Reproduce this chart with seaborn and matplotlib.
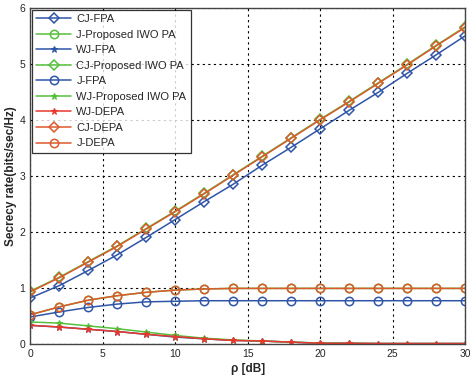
import numpy as np
import pandas as pd
import matplotlib
matplotlib.use("Agg")
import matplotlib.pyplot as plt
import seaborn as sns

rho = [0, 2, 4, 6, 8, 10, 12, 14, 16, 18, 20, 22, 24, 26, 28, 30]

cj_fpa = [0.82, 1.04, 1.31, 1.59, 1.90, 2.22, 2.54, 2.85, 3.19, 3.51, 3.84, 4.17, 4.49, 4.83, 5.16, 5.50]
cj_iwo = [0.94, 1.19, 1.47, 1.75, 2.06, 2.37, 2.69, 3.02, 3.35, 3.68, 4.01, 4.33, 4.66, 4.99, 5.33, 5.66]
cj_depa = [0.93, 1.18, 1.46, 1.74, 2.05, 2.36, 2.68, 3.01, 3.34, 3.67, 4.00, 4.32, 4.65, 4.98, 5.32, 5.65]

j_fpa = [0.48, 0.57, 0.65, 0.71, 0.75, 0.76, 0.77, 0.77, 0.77, 0.77, 0.77, 0.77, 0.77, 0.77, 0.77, 0.77]
j_iwo = [0.52, 0.66, 0.78, 0.86, 0.92, 0.96, 0.98, 0.99, 0.99, 0.99, 0.99, 0.99, 0.99, 0.99, 0.99, 0.99]
j_depa = [0.52, 0.66, 0.78, 0.86, 0.92, 0.96, 0.98, 0.99, 0.99, 0.99, 0.99, 0.99, 0.99, 0.99, 0.99, 0.99]

wj_fpa = [0.33, 0.30, 0.26, 0.22, 0.17, 0.12, 0.09, 0.06, 0.05, 0.03, 0.01, 0.01, 0.005, 0.005, 0.005, 0.005]
wj_iwo = [0.39, 0.37, 0.32, 0.27, 0.21, 0.15, 0.10, 0.07, 0.05, 0.03, 0.015, 0.01, 0.005, 0.005, 0.005, 0.005]
wj_depa = [0.33, 0.30, 0.26, 0.22, 0.17, 0.13, 0.09, 0.06, 0.05, 0.03, 0.01, 0.01, 0.005, 0.005, 0.005, 0.005]

blue = "#2f55a8"
green = "#55c03c"
red = "#e8382e"
orange = "#dc5a2c"

series = [
    ("CJ-FPA", cj_fpa, blue, "D"),
    ("J-Proposed IWO PA", j_iwo, green, "o"),
    ("WJ-FPA", wj_fpa, blue, "*"),
    ("CJ-Proposed IWO PA", cj_iwo, green, "D"),
    ("J-FPA", j_fpa, blue, "o"),
    ("WJ-Proposed IWO PA", wj_iwo, green, "*"),
    ("WJ-DEPA", wj_depa, red, "*"),
    ("CJ-DEPA", cj_depa, orange, "D"),
    ("J-DEPA", j_depa, orange, "o"),
]

sns.set_style("white")
plt.rcParams["font.family"] = ["Liberation Sans", "DejaVu Sans"]

fig = plt.figure(figsize=(4.74, 3.77), dpi=100)
ax = fig.add_axes([0.064, 0.088, 0.917, 0.891])

for name, vals, col, mk in series:
    df = pd.DataFrame({"rho": rho, "rate": vals})
    if mk == "*":
        sns.lineplot(data=df, x="rho", y="rate", ax=ax, color=col, lw=1.1,
                     marker=mk, markersize=5, markeredgecolor=col,
                     markerfacecolor=col, label=name)
    else:
        ms = 5 if mk == "D" else 6
        sns.lineplot(data=df, x="rho", y="rate", ax=ax, color=col, lw=1.1,
                     marker=mk, markersize=ms, markeredgecolor=col,
                     markeredgewidth=1.1, markerfacecolor="none", label=name)

ax.set_xlim(0, 30)
ax.set_ylim(0, 6)
ax.set_xticks([0, 5, 10, 15, 20, 25, 30])
ax.set_yticks([0, 1, 2, 3, 4, 5, 6])
ax.tick_params(labelsize=7.5, length=3, direction="in", color="#333333")
ax.grid(True, color="black", linestyle=(0, (2, 3)), linewidth=0.8)
for s in ax.spines.values():
    s.set_color("#444444")
    s.set_linewidth(1.0)

ax.set_xlabel("ρ [dB]", fontsize=8.5, fontweight="bold", labelpad=3)
ax.set_ylabel("Secrecy rate(bits/sec/Hz)", fontsize=8.5, fontweight="bold", labelpad=2)

leg = ax.legend(loc="upper left", fontsize=8, handlelength=3.1, labelspacing=0.5,
                borderpad=0.4, handletextpad=0.5, frameon=True, fancybox=False,
                borderaxespad=0.15)
leg.get_frame().set_edgecolor("black")
leg.get_frame().set_linewidth(0.9)

fig.savefig("out.png", dpi=100)
